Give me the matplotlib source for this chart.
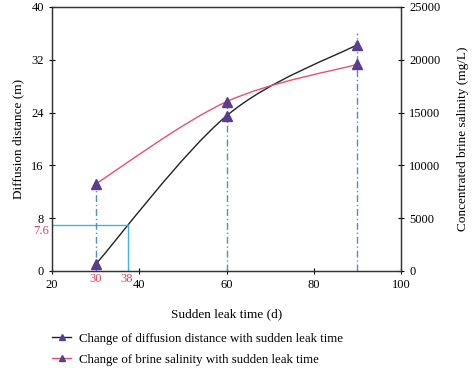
import numpy as np
import matplotlib.pyplot as plt
from matplotlib.path import Path
from matplotlib.patches import PathPatch
from matplotlib.lines import Line2D

plt.rcParams['font.family'] = ['Liberation Serif', 'DejaVu Serif']
plt.rcParams['font.size'] = 9

# Data
leak_time = [30, 60, 90]
diffusion = [1.0, 23.5, 34.3]          # m (left axis)
salinity = [8240, 16030, 19570]        # mg/L (right axis)
mark_label_x = '38'
mark_label_y = '7.6'
mark_line_x = 37.5                     # where the guide lines sit in the picture
mark_line_y = 6.9

black = '#222222'
red = '#e8506a'
purple = '#5a3c90'
dashblue = '#4f8fc8'
cyan = '#3cb4e0'
labelred = '#e0405a'


def smooth_path(xs, ys):
    # Catmull-Rom style bezier through the points (like a smoothed line)
    pts = np.column_stack([xs, ys]).astype(float)
    verts = [pts[0]]
    codes = [Path.MOVETO]
    n = len(pts)
    for i in range(n - 1):
        p_prev = pts[i - 1] if i > 0 else pts[i]
        p_next = pts[i + 2] if i + 2 < n else pts[i + 1]
        c1 = pts[i] + (pts[i + 1] - p_prev) / 6
        c2 = pts[i + 1] - (p_next - pts[i]) / 6
        verts += [c1, c2, pts[i + 1]]
        codes += [Path.CURVE4] * 3
    return Path(verts, codes)


fig = plt.figure(figsize=(4.74, 3.68), dpi=100)
ax = fig.add_axes([0.110, 0.264, 0.736, 0.717])
ax2 = ax.twinx()

ax.set_xlim(20, 100)
ax.set_ylim(0, 40)
ax2.set_ylim(0, 25000)

# guide lines for the 7.6 m / 38 d reading
ax.plot([20, mark_line_x], [mark_line_y, mark_line_y], color=cyan, lw=1)
ax.plot([mark_line_x, mark_line_x], [0, mark_line_y], color=cyan, lw=1)

# dash-dot drops from the points
tops = [13.2, 25.8, 36.0]
for x, t in zip(leak_time, tops):
    ax.plot([x, x], [0, t], color=dashblue, lw=1, ls=(0, (5, 2, 1, 2)))

ax.add_patch(PathPatch(smooth_path(leak_time, diffusion), fc='none', ec=black, lw=1))
ax2.add_patch(PathPatch(smooth_path(leak_time, salinity), fc='none', ec=red, lw=1))
ax.plot(leak_time, diffusion, ls='none', marker='^', ms=7, color=purple)
ax2.plot(leak_time, salinity, ls='none', marker='^', ms=7, color=purple)

ax.set_xticks([20, 40, 60, 80, 100])
ax.set_yticks([0, 8, 16, 24, 32, 40])
ax2.set_yticks([0, 5000, 10000, 15000, 20000, 25000])
for a in (ax, ax2):
    a.tick_params(direction='inout', length=5, width=0.8, labelsize=9)
    for s in a.spines.values():
        s.set_linewidth(0.9)
        s.set_color('#333333')

ax.set_xlabel('Sudden leak time (d)', fontsize=9.5, labelpad=12)
ax.set_ylabel('Diffusion distance (m)', fontsize=9.5, labelpad=5)
ax2.set_ylabel('Concentrated brine salinity (mg/L)', fontsize=9.5, labelpad=12)

# red reading labels
ax.text(19.3, 6.0, mark_label_y, color=labelred, ha='right', va='center', fontsize=9)
ax.text(30, -0.4, '30', color=labelred, ha='center', va='top', fontsize=9)
ax.text(37.0, -0.4, mark_label_x, color=labelred, ha='center', va='top', fontsize=9)

handles = [
    Line2D([], [], color=black, lw=1, marker='^', ms=5, mfc=purple, mec=purple),
    Line2D([], [], color=red, lw=1, marker='^', ms=5, mfc=purple, mec=purple),
]
labels = ['Change of diffusion distance with sudden leak time',
          'Change of brine salinity with sudden leak time']
fig.legend(handles, labels, loc='upper left', bbox_to_anchor=(0.085, 0.127),
           frameon=False, fontsize=9.3, handlelength=1.5, labelspacing=0.7,
           handletextpad=0.6)

fig.savefig('out.png', dpi=100)
